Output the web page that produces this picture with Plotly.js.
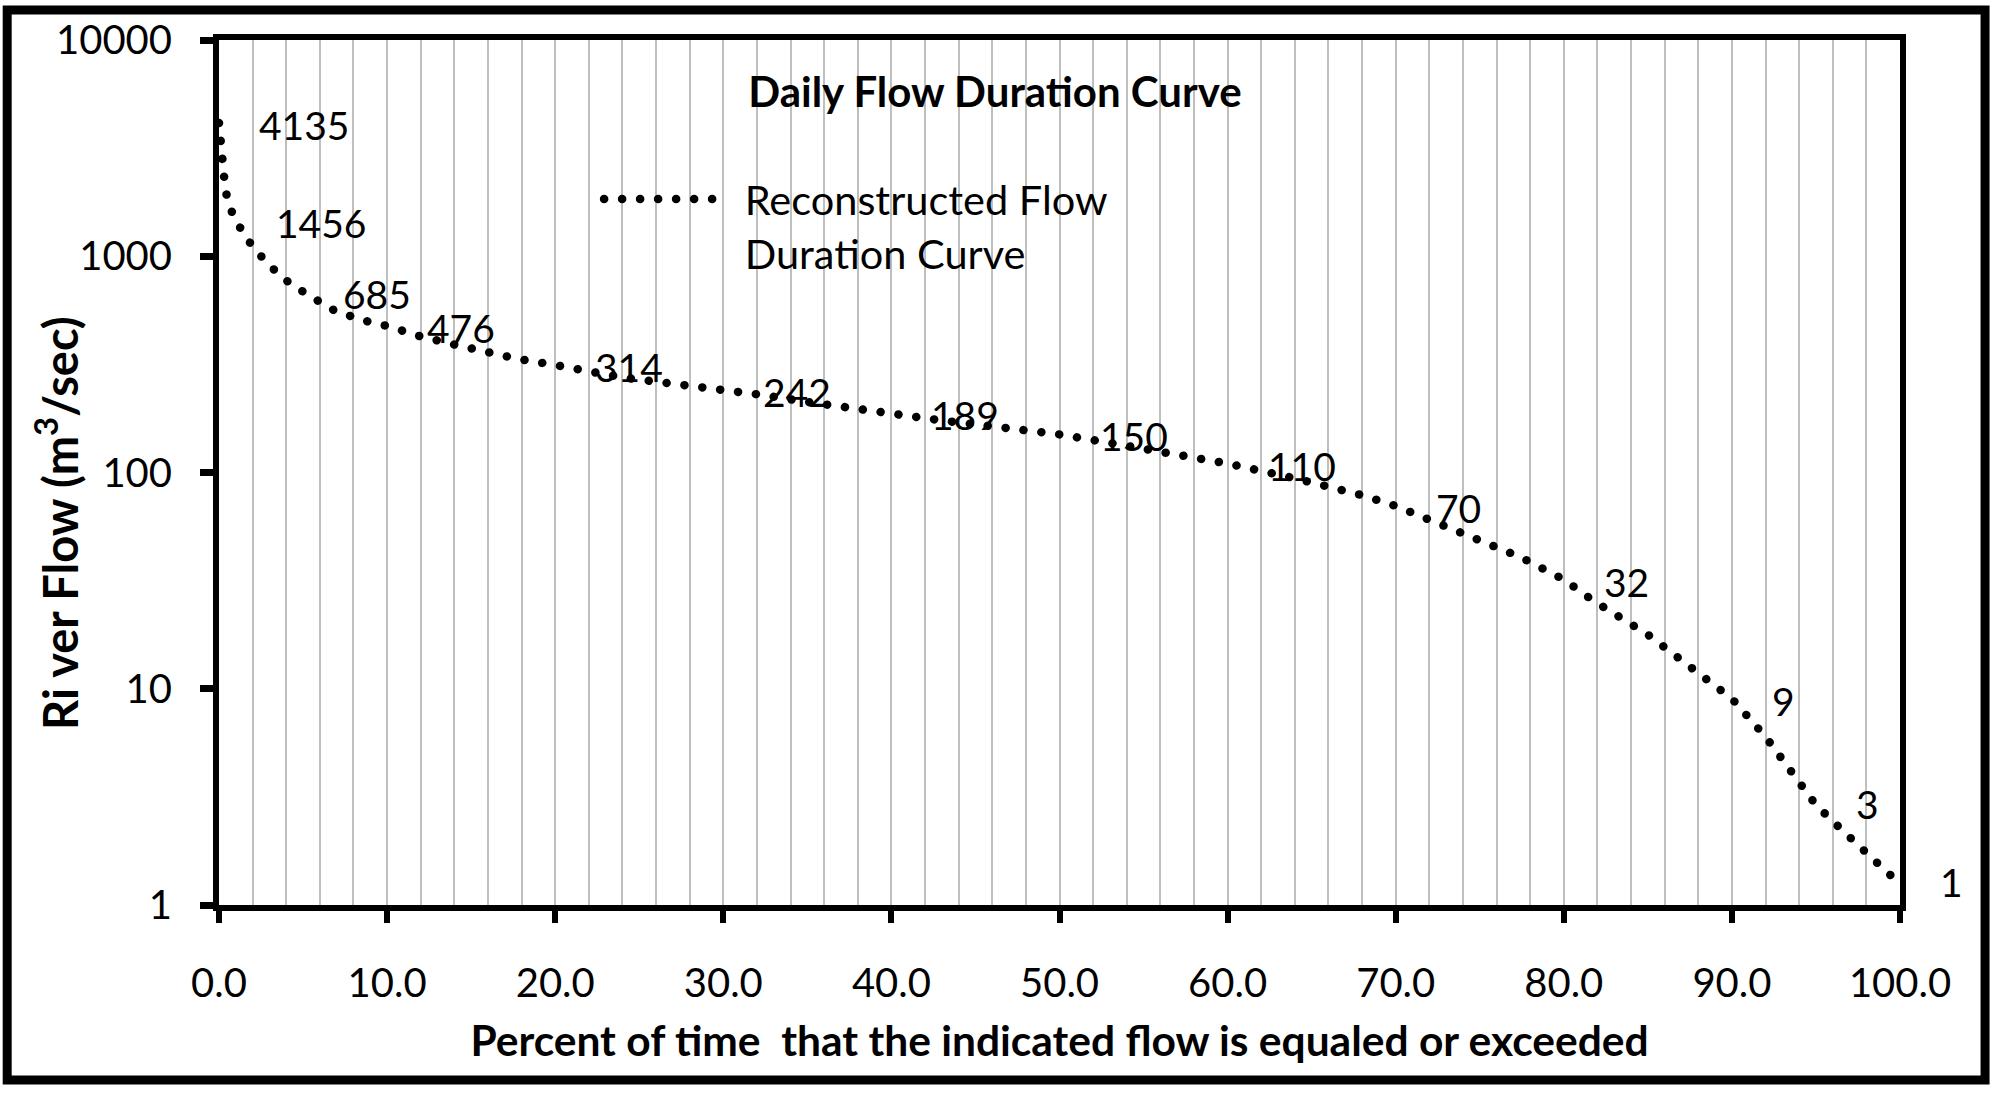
<!DOCTYPE html>
<html>
<head>
<meta charset="utf-8">
<script src="https://cdn.plot.ly/plotly-3.0.1.min.js"></script>
<style>
  html, body { margin: 0; padding: 0; background: #fff; }
  #chart { width: 1999px; height: 1098px; }
  .js-line { stroke-linecap: round !important; }
</style>
</head>
<body>
<div id="chart"></div>
<script>
// Curve: percent of time vs river flow (m3/sec)
var curvePct  = [0, 0.08, 0.17, 0.24, 0.38, 0.65, 1, 2.1, 2.8, 3.5, 4.3, 5, 5.8, 6.7, 7.7, 8.6, 10, 11.9, 13.9, 15.8, 17.8, 20, 22, 24, 26, 28, 30, 32, 35, 38, 40, 43, 47, 50, 53, 56, 60, 64, 68, 70, 73.7, 77.4, 80, 81.7, 85, 87.4, 90, 92, 93.8, 95, 96.5, 97.9, 99.4, 100];
var curveFlow = [4135, 3450, 2870, 2414, 2018, 1687, 1456, 1077, 938, 832, 741, 685, 620, 569, 533, 505, 476, 428, 392, 361, 335, 314, 292, 275, 263, 252, 242, 230, 212, 196, 189, 174, 160, 150, 137, 124, 110, 94, 78.5, 70, 54, 40.7, 32, 25.7, 17.8, 12.9, 9, 6, 3.85, 2.9, 2.24, 1.77, 1.38, 1.3];

// Labelled points
var labelPct  = [0, 1, 5, 10, 20, 30, 40, 50, 60, 70, 80, 90, 95, 100];
var labelFlow = [4135, 1456, 685, 476, 314, 242, 189, 150, 110, 70, 32, 9, 3, 1.3];

// Axis tick labels
var yTickVals = [1, 10, 100, 1000, 10000];
var yTickText = ['1', '10', '100', '1000', '10000'];

var titleText  = 'Daily Flow Duration Curve';
var seriesName = '\u00a0Reconstructed Flow<br>\u00a0Duration Curve';
var xTitle     = 'Percent of time  that the indicated flow is equaled or exceeded';
var yTitle     = 'Ri ver Flow (m<sup>3</sup>/sec)';

var FONT = 'Lato, "Open Sans", sans-serif';

var trace = {
  x: curvePct,
  y: curveFlow,
  type: 'scatter',
  mode: 'lines',
  name: seriesName,
  line: { color: '#000000', width: 8.5, dash: '0.1px,17.9px', shape: 'linear' },
  hoverinfo: 'skip'
};

var labelAnnotations = labelPct.map(function (p, i) {
  return {
    x: p, y: Math.log10(labelFlow[i]), xref: 'x', yref: 'y',
    text: String(Math.round(labelFlow[i])),
    showarrow: false, xanchor: 'left', yanchor: 'middle', xshift: 38, yshift: -2,
    font: { family: FONT, size: 39, color: '#000' }
  };
});

labelAnnotations.push({
  x: -0.0964, y: 0.4416, xref: 'paper', yref: 'paper',
  text: '<b>' + yTitle + '</b>', textangle: -90,
  showarrow: false, xanchor: 'center', yanchor: 'middle',
  font: { family: FONT, size: 47, color: '#000' }
});

var layout = {
  width: 1999, height: 1098,
  margin: { l: 219, r: 99, t: 40, b: 193, pad: 0 },
  paper_bgcolor: '#ffffff', plot_bgcolor: '#ffffff',
  font: { family: FONT, size: 40, color: '#000' },
  title: {
    text: '<b>' + titleText + '</b>',
    x: 0.4616, xref: 'paper', xanchor: 'center',
    y: 0.916, yref: 'container', yanchor: 'middle',
    font: { family: FONT, size: 42, color: '#000' }
  },
  showlegend: true,
  legend: {
    x: 0.2261, y: 0.855, xanchor: 'left', yanchor: 'top',
    bgcolor: 'rgba(0,0,0,0)', borderwidth: 0,
    font: { family: FONT, size: 41.5, color: '#000' },
    itemwidth: 125, valign: 'top'
  },
  xaxis: {
    range: [0, 100], tick0: 0, dtick: 10, tickformat: '.1f',
    ticks: 'outside', ticklen: 12, tickwidth: 6, tickcolor: '#000',
    showline: true, linewidth: 6, linecolor: '#000', mirror: true,
    showgrid: true, gridcolor: '#bfbfbf', gridwidth: 2,
    minor: { dtick: 2, showgrid: true, gridcolor: '#bfbfbf', gridwidth: 2, ticks: '' },
    zeroline: false,
    tickfont: { family: FONT, size: 40, color: '#000' },
    ticklabelstandoff: 26,
    title: { text: '<b>' + xTitle + '</b>', font: { family: FONT, size: 42.5, color: '#000' }, standoff: 23 }
  },
  yaxis: {
    type: 'log', range: [0, 4],
    tickvals: yTickVals, ticktext: yTickText,
    ticks: 'outside', ticklen: 13, tickwidth: 7, tickcolor: '#000',
    showline: true, linewidth: 6, linecolor: '#000', mirror: true,
    showgrid: false, zeroline: false,
    tickfont: { family: FONT, size: 40, color: '#000' },
    ticklabelstandoff: 20
  },
  shapes: [{
    type: 'rect', xref: 'paper', yref: 'paper',
    x0: -0.126, x1: 1.0506, y0: -0.2023, y1: 1.0347,
    line: { color: '#000', width: 9 }, fillcolor: 'rgba(0,0,0,0)', layer: 'above'
  }],
  annotations: labelAnnotations
};

Plotly.newPlot('chart', [trace], layout, { displayModeBar: false, staticPlot: true });
</script>
</body>
</html>
